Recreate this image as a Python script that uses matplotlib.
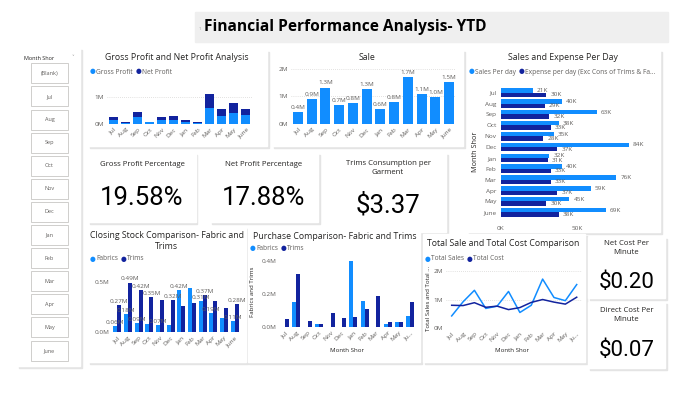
import matplotlib
matplotlib.use("Agg")
import matplotlib.pyplot as plt
from matplotlib.patches import Rectangle
import numpy as np

# ---- data ----
months = ['Jul', 'Aug', 'Sep', 'Oct', 'Nov', 'Dec', 'Jan', 'Feb', 'Mar', 'Apr', 'May', 'June']
months_cut = months[:-1] + ['Ju...']
slicer_items = ['(Blank)'] + months

gross_profit = [0.13, 0.05, 0.27, 0.06, 0.13, 0.15, 0.09, 0.05, 0.60, 0.30, 0.42, 0.33]
net_profit = [0.11, 0.01, 0.16, 0.02, 0.14, 0.14, 0.07, 0.01, 0.52, 0.25, 0.36, 0.24]

sale = [0.43, 0.92, 1.32, 0.69, 0.77, 1.28, 0.55, 0.80, 1.71, 1.07, 0.96, 1.52]

sales_per_day = [21, 40, 63, 38, 35, 84, 32, 40, 76, 59, 45, 69]
expense_per_day = [30, 29, 32, 33, 28, 37, 31, 33, 33, 37, 30, 38]

stock_fabrics = [0.06, 0.18, 0.09, 0.08, 0.07, 0.07, 0.42, 0.44, 0.31, 0.19, 0.14, 0.11]
stock_trims = [0.27, 0.49, 0.42, 0.35, 0.32, 0.32, 0.26, 0.29, 0.37, 0.31, 0.24, 0.28]
# power bi hides the data labels that collide, these are the ones left visible
stock_fabrics_shown = [1, 1, 1, 0, 1, 0, 1, 0, 1, 1, 0, 1]
stock_trims_shown = [1, 1, 1, 1, 0, 1, 0, 0, 1, 0, 0, 1]

purchase_fabrics = [0.0, 0.155, 0.0, 0.02, 0.0, 0.0, 0.40, 0.16, 0.0, 0.018, 0.03, 0.065]
purchase_trims = [0.048, 0.32, 0.04, 0.02, 0.085, 0.055, 0.06, 0.11, 0.19, 0.032, 0.03, 0.155]

total_sales = sale
total_cost = [0.80, 0.79, 0.89, 0.73, 0.77, 0.65, 0.72, 0.90, 1.00, 0.91, 0.84, 1.08]

cards = [
    ('Gross Profit Percentage', '19.58%'),
    ('Net Profit Percentage', '17.88%'),
    ('Trims Consumption per\nGarment', '$3.37'),
    ('Net Cost Per\nMinute', '$0.20'),
    ('Direct Cost Per\nMinute', '$0.07'),
]

LIGHT = '#118DFF'
DARK = '#12239E'
GREY = '#605E5C'
TITLE = '#252423'
FONT = ['Open Sans', 'DejaVu Sans']

W, H = 680, 393
fig = plt.figure(figsize=(W / 100, H / 100), dpi=100)
fig.patch.set_facecolor('white')
renderer = fig.canvas.get_renderer()


def fx(x):
    return x / W


def fy(y):
    return 1 - y / H


def text(x, y, s, size=5, color=GREY, **kw):
    kw.setdefault('family', FONT)
    return fig.text(fx(x), fy(y), s, fontsize=size, color=color, zorder=5, **kw)


def panel(x0, y0, x1, y1):
    fig.add_artist(Rectangle((fx(x0 + 1.5), fy(y1 + 1.5)), (x1 - x0) / W, (y1 - y0) / H,
                             transform=fig.transFigure, color='#e4e4e4', zorder=-2))
    fig.add_artist(Rectangle((fx(x0), fy(y1)), (x1 - x0) / W, (y1 - y0) / H,
                             transform=fig.transFigure, color='white', zorder=-1))


def axes_px(x0, y0, x1, y1):
    ax = fig.add_axes([x0 / W, 1 - y1 / H, (x1 - x0) / W, (y1 - y0) / H])
    ax.set_zorder(2)
    ax.patch.set_alpha(0)
    for s in ax.spines.values():
        s.set_visible(False)
    ax.tick_params(length=0, labelsize=4.6, labelcolor=GREY, pad=2)
    return ax


def month_axis(ax, labels):
    ax.set_xticks(range(len(labels)))
    ax.set_xticklabels(labels, rotation=45, ha='right', rotation_mode='anchor',
                       fontsize=4.6, color=GREY, family=FONT)


def legend(x, y, items, size=4.8):
    for label, color in items:
        t = text(x, y, '\u25CF', size=size, color=color, va='center')
        x += t.get_window_extent(renderer).width + 0.3
        t = text(x, y, label, size=size, va='center')
        x += t.get_window_extent(renderer).width + 3


def ygrid(ax):
    ax.yaxis.grid(True, color='#c8c6c4', linestyle=(0, (1, 2)), linewidth=0.5)
    ax.set_axisbelow(True)


# ---- title bar ----
fig.add_artist(Rectangle((fx(195), fy(42)), (668 - 195) / W, 30 / H,
                         transform=fig.transFigure, color='#efefef', zorder=-1))
text(199, 29, '1', size=3, color='#999999', va='center')
text(204, 27, 'Financial Performance Analysis- YTD', size=11.2, color='black',
     weight='bold', va='center')

# ---- slicer ----
panel(17, 48, 80, 366)
text(24, 58, 'Month Shor', size=4, color=TITLE, va='center')
text(73, 57, '\u02C5', size=4, color='#a0a0a0', va='center', ha='center')
for i, m in enumerate(slicer_items):
    top = 63.3 + i * 23.1
    fig.add_artist(Rectangle((fx(31), fy(top + 20)), 37 / W, 20 / H, transform=fig.transFigure,
                             facecolor='white', edgecolor='#c8c6c4', linewidth=0.6, zorder=1))
    text(49.5, top + 10, m, size=4, ha='center', va='center')

x = np.arange(len(months))

# ---- Gross profit and net profit ----
panel(88, 50, 267, 146)
text(177, 58, 'Gross Profit and Net Profit Analysis', size=6.3, color=TITLE, ha='center', va='center')
legend(90, 72, [('Gross Profit', LIGHT), ('Net Profit', DARK)])
ax = axes_px(107, 86, 252, 124)
ygrid(ax)
ax.bar(x, gross_profit, width=0.75, color=LIGHT)
ax.bar(x, net_profit, width=0.75, bottom=gross_profit, color=DARK)
ax.set_xlim(-0.55, 11.5)
ax.set_ylim(0, 1.4)
ax.set_yticks([0, 1])
ax.set_yticklabels(['0M', '1M'], family=FONT)
month_axis(ax, months)

# ---- Sale ----
panel(272, 50, 463, 146)
text(367, 58, 'Sale', size=6.3, color=TITLE, ha='center', va='center')
ax = axes_px(291, 66, 456, 124)
ygrid(ax)
bars = ax.bar(x, sale, width=0.73, color=LIGHT)
ax.bar_label(bars, labels=[f'{v:.1f}M' for v in sale], fontsize=4.6, color=GREY,
             padding=1.5, family=FONT)
ax.set_xlim(-0.5, 11.5)
ax.set_ylim(0, 2.1)
ax.set_yticks([0, 1, 2])
ax.set_yticklabels(['0M', '1M', '2M'], family=FONT)
month_axis(ax, months)

# ---- Sales and expense per day ----
panel(467, 50, 660, 232)
text(563, 58, 'Sales and Expense Per Day', size=6.3, color=TITLE, ha='center', va='center')
legend(469, 72, [('Sales Per day', LIGHT), ('Expense per day (Exc Cons of Trims & Fa...', DARK)])
ax = axes_px(500.7, 87.3, 650, 217.7)
b1 = ax.barh(x - 0.2, sales_per_day, height=0.4, color=LIGHT)
b2 = ax.barh(x + 0.2, expense_per_day, height=0.4, color=DARK)
ax.bar_label(b1, labels=[f'{v}K' for v in sales_per_day], fontsize=4.6, color=GREY,
             padding=3, family=FONT)
ax.bar_label(b2, labels=[f'{v}K' for v in expense_per_day], fontsize=4.6, color=GREY,
             padding=3, family=FONT)
ax.set_ylim(11.5, -0.5)
ax.set_xlim(0, 98)
ax.set_yticks(x)
ax.set_yticklabels(months, family=FONT)
ax.set_xticks([0, 50])
ax.set_xticklabels(['0K', '50K'], family=FONT)
ax.tick_params(axis='x', pad=6)
ax.tick_params(axis='y', pad=3)
text(476, 152, 'Month Shor', size=5.2, color=TITLE, rotation=90, ha='center', va='center')

# ---- cards ----
card_boxes = [(88, 153, 196, 222, 165, 198, 18.5),
              (210, 153, 318, 222, 165, 198, 18.5),
              (330, 153, 446, 232, 168, 205, 18.5),
              (588, 237, 665, 298, 248, 282, 16),
              (588, 302, 665, 368, 315, 350, 16)]
for (title, value), (x0, y0, x1, y1, ty, vy, vs) in zip(cards, card_boxes):
    panel(x0, y0, x1, y1)
    cx = (x0 + x1) / 2
    text(cx, ty, title, size=5.6, color=TITLE, ha='center', va='center', linespacing=1.3)
    text(cx, vy, value, size=vs, color='black', ha='center', va='center',
         family=['Roboto', 'DejaVu Sans'])

# ---- closing stock ----
panel(88, 227, 246, 362)
text(167, 241, 'Closing Stock Comparison- Fabric and\nTrims', size=6.3, color=TITLE,
     ha='center', va='center', linespacing=1.25)
legend(90, 259, [('Fabrics', LIGHT), ('Trims', DARK)])
ax = axes_px(112, 270, 240, 332.3)
b1 = ax.bar(x - 0.19, stock_fabrics, width=0.38, color=LIGHT)
b2 = ax.bar(x + 0.19, stock_trims, width=0.38, color=DARK)
ax.bar_label(b1, labels=[f'{v:.2f}M' if s else '' for v, s in zip(stock_fabrics, stock_fabrics_shown)],
             fontsize=4.6, color=GREY, padding=1, family=FONT)
ax.bar_label(b2, labels=[f'{v:.2f}M' if s else '' for v, s in zip(stock_trims, stock_trims_shown)],
             fontsize=4.6, color=GREY, padding=1, family=FONT)
ax.set_xlim(-0.5, 11.5)
ax.set_ylim(0, 0.617)
ax.set_yticks([0, 0.5])
ax.set_yticklabels(['0.0M', '0.5M'], family=FONT)
month_axis(ax, months)

# ---- purchase ----
panel(248, 227, 420, 362)
text(335, 236, 'Purchase Comparison- Fabric and Trims', size=6.3, color=TITLE,
     ha='center', va='center')
legend(250, 249, [('Fabrics', LIGHT), ('Trims', DARK)])
ax = axes_px(279.3, 257.4, 416, 327.3)
ax.bar(x - 0.175, purchase_fabrics, width=0.35, color=LIGHT)
ax.bar(x + 0.175, purchase_trims, width=0.35, color=DARK)
ax.set_xlim(-0.5, 11.5)
ax.set_ylim(0, 0.42)
ax.set_yticks([0, 0.2, 0.4])
ax.set_yticklabels(['0.0M', '0.2M', '0.4M'], family=FONT)
month_axis(ax, months_cut)
text(252, 292, 'Fabrics and Trims', size=4.4, color=TITLE, rotation=90, ha='center', va='center')
text(347, 351, 'Month Shor', size=4.4, color=TITLE, ha='center', va='center')

# ---- total sale vs total cost ----
panel(423, 234, 585, 362)
text(503, 244, 'Total Sale and Total Cost Comparison', size=6.3, color=TITLE,
     ha='center', va='center')
legend(425, 259, [('Total Sales', LIGHT), ('Total Cost', DARK)])
ax = axes_px(446, 269.3, 582.4, 328.3)
ygrid(ax)
ax.plot(x, total_sales, color=LIGHT, linewidth=1.1)
ax.plot(x, total_cost, color=DARK, linewidth=1.1)
ax.set_xlim(-0.5, 11.5)
ax.set_ylim(0, 2.05)
ax.set_yticks([0, 1, 2])
ax.set_yticklabels(['0M', '1M', '2M'], family=FONT)
month_axis(ax, months_cut)
text(428, 298, 'Total Sales and Total ...', size=4.4, color=TITLE, rotation=90,
     ha='center', va='center')
text(512, 351, 'Month Shor', size=4.4, color=TITLE, ha='center', va='center')

fig.savefig('out.png', dpi=100)
